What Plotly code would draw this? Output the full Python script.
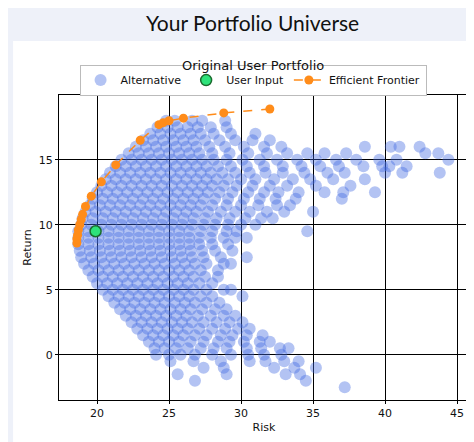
import plotly.graph_objects as go

# Alternative portfolios, read row by row: (return, [risks...])
alt_rows = [
    (18.0, [24.8, 25.4, 26.6, 27.3, 28.9]),
    (17.5, [24.2, 24.9, 25.6, 26.3, 27.0, 27.9, 29.0]),
    (17.0, [23.7, 24.4, 25.1, 25.8, 26.5, 27.2, 28.1, 29.3, 31.0]),
    (16.5, [23.2, 23.9, 24.6, 25.3, 26.0, 26.7, 27.5, 28.5, 29.6, 30.8, 32.0]),
    (16.0, [22.7, 23.4, 24.1, 24.8, 25.5, 26.2, 26.9, 27.8, 28.9, 30.2, 31.6, 32.8, 38.6, 40.4, 41.0, 42.4]),
    (15.5, [22.2, 22.9, 23.6, 24.3, 25.0, 25.7, 26.4, 27.1, 28.0, 29.2, 30.5, 31.8, 33.2, 34.6, 35.8, 37.3, 42.8, 43.7]),
    (15.0, [21.7, 22.4, 23.1, 23.8, 24.5, 25.2, 25.9, 26.6, 27.3, 28.1, 29.0, 30.1, 31.3, 32.5, 33.9, 35.2, 36.6, 38.0, 39.6, 40.8, 44.4]),
    (14.5, [21.3, 22.0, 22.7, 23.4, 24.1, 24.8, 25.5, 26.2, 26.9, 27.6, 28.4, 29.3, 30.4, 31.6, 32.9, 34.2, 35.5, 36.8, 38.5, 39.8, 40.3, 41.5]),
    (14.0, [20.9, 21.6, 22.3, 23.0, 23.7, 24.4, 25.1, 25.8, 26.5, 27.2, 27.9, 28.7, 29.6, 30.6, 31.7, 32.9, 34.4, 36.0, 37.2, 40.0, 41.2, 43.8]),
    (13.5, [20.6, 21.3, 22.0, 22.7, 23.4, 24.1, 24.8, 25.5, 26.2, 26.9, 27.6, 28.3, 29.1, 30.0, 31.0, 32.3, 33.6, 34.8, 36.4, 38.6]),
    (13.0, [20.3, 21.0, 21.7, 22.4, 23.1, 23.8, 24.5, 25.2, 25.9, 26.6, 27.3, 28.0, 28.8, 29.7, 30.8, 32.0, 33.2, 35.2, 37.6]),
    (12.5, [20.0, 20.7, 21.4, 22.1, 22.8, 23.5, 24.2, 24.9, 25.6, 26.3, 27.0, 27.7, 28.5, 29.4, 30.5, 31.6, 32.6, 34.0, 35.8, 37.1, 39.3]),
    (12.0, [19.7, 20.4, 21.1, 21.8, 22.5, 23.2, 23.9, 24.6, 25.3, 26.0, 26.7, 27.4, 28.2, 29.1, 30.2, 31.3, 32.4, 33.8, 37.0]),
    (11.5, [19.5, 20.2, 20.9, 21.6, 22.3, 23.0, 23.7, 24.4, 25.1, 25.8, 26.5, 27.2, 28.0, 29.0, 30.0, 31.2, 32.5, 33.4]),
    (11.0, [19.2, 19.9, 20.6, 21.3, 22.0, 22.7, 23.4, 24.1, 24.8, 25.5, 26.2, 26.9, 27.7, 28.6, 29.6, 30.6, 31.8, 33.0, 35.0]),
    (10.5, [19.0, 19.7, 20.4, 21.1, 21.8, 22.5, 23.2, 23.9, 24.6, 25.3, 26.0, 26.7, 27.5, 28.3, 29.2, 30.3, 31.4, 32.2]),
    (10.0, [18.9, 19.6, 20.3, 21.0, 21.7, 22.4, 23.1, 23.8, 24.5, 25.2, 25.9, 26.6, 27.4, 28.2, 29.1, 30.0, 31.0]),
    (9.5, [18.7, 19.4, 20.1, 20.8, 21.5, 22.2, 22.9, 23.6, 24.3, 25.0, 25.7, 26.4, 27.2, 28.0, 29.0, 29.7, 34.6]),
    (9.0, [18.7, 19.4, 20.1, 20.8, 21.5, 22.2, 22.9, 23.6, 24.3, 25.0, 25.7, 26.4, 27.1, 27.9, 28.8, 29.6, 30.4]),
    (8.5, [18.7, 19.4, 20.1, 20.8, 21.5, 22.2, 22.9, 23.6, 24.3, 25.0, 25.7, 26.4, 27.1, 28.0, 29.1]),
    (8.0, [18.8, 19.5, 20.2, 20.9, 21.6, 22.3, 23.0, 23.7, 24.4, 25.1, 25.8, 26.5, 27.3, 28.2, 29.4]),
    (7.5, [18.9, 19.6, 20.3, 21.0, 21.7, 22.4, 23.1, 23.8, 24.5, 25.2, 25.9, 26.6, 27.4, 28.6, 30.4]),
    (7.0, [19.1, 19.8, 20.5, 21.2, 21.9, 22.6, 23.3, 24.0, 24.7, 25.4, 26.1, 26.8, 27.6, 28.8, 29.3]),
    (6.5, [19.4, 20.1, 20.8, 21.5, 22.2, 22.9, 23.6, 24.3, 25.0, 25.7, 26.4, 27.2, 28.4]),
    (6.0, [19.7, 20.4, 21.1, 21.8, 22.5, 23.2, 23.9, 24.6, 25.3, 26.0, 26.7, 27.5, 28.4]),
    (5.5, [20.0, 20.7, 21.4, 22.1, 22.8, 23.5, 24.2, 24.9, 25.6, 26.3, 27.1, 28.0]),
    (5.0, [20.4, 21.1, 21.8, 22.5, 23.2, 23.9, 24.6, 25.3, 26.0, 26.7, 27.6, 28.8, 29.3]),
    (4.5, [20.8, 21.5, 22.2, 22.9, 23.6, 24.3, 25.0, 25.7, 26.4, 27.2, 28.0, 30.1]),
    (4.0, [21.2, 21.9, 22.6, 23.3, 24.0, 24.7, 25.4, 26.1, 26.8, 27.6, 28.5]),
    (3.5, [21.6, 22.3, 23.0, 23.7, 24.4, 25.1, 25.8, 26.5, 27.3, 28.2, 29.0]),
    (3.0, [22.0, 22.7, 23.4, 24.1, 24.8, 25.5, 26.2, 27.0, 27.9, 28.8, 29.6]),
    (2.5, [22.4, 23.1, 23.8, 24.5, 25.2, 25.9, 26.6, 27.4, 28.3, 29.2, 30.1]),
    (2.0, [22.8, 23.5, 24.2, 24.9, 25.6, 26.3, 27.1, 28.0, 28.9, 29.8, 30.6]),
    (1.5, [23.2, 23.9, 24.6, 25.3, 26.0, 26.8, 27.6, 28.6, 29.4, 30.4, 31.5]),
    (1.0, [23.6, 24.3, 25.0, 25.7, 26.5, 27.4, 28.4, 29.2, 30.2, 31.3, 32.0]),
    (0.5, [24.0, 24.7, 25.5, 26.3, 27.2, 28.1, 29.0, 30.4, 31.4, 32.7, 33.3]),
    (0.0, [24.1, 25.0, 25.8, 26.8, 28.0, 29.3, 30.5, 31.6, 32.8]),
    (-0.5, [25.1, 26.7, 28.6, 30.6, 31.7, 33.0, 34.0]),
    (-1.0, [27.4, 28.8, 32.3, 33.7, 35.2]),
    (-1.5, [25.6, 29.0, 33.1, 34.1]),
    (-2.0, [26.8, 34.5]),
    (-2.5, [37.2]),
]
alt_risk = [x for y, xs in alt_rows for x in xs]
alt_return = [y for y, xs in alt_rows for x in xs]

user_risk = [19.9]
user_return = [9.5]

ef_risk = [18.6, 18.6, 18.65, 18.7, 18.8, 18.9, 19.0, 19.2, 19.6, 20.3, 21.3, 23.0, 24.3, 24.6, 25.0, 26.0, 28.8, 32.0]
ef_return = [8.6, 8.9, 9.2, 9.6, 10.0, 10.4, 10.8, 11.4, 12.2, 13.3, 14.6, 16.5, 17.7, 17.85, 18.0, 18.2, 18.6, 18.9]

fig = go.Figure()
fig.add_trace(go.Scatter(x=alt_risk, y=alt_return, mode="markers", name="Alternative",
                         marker=dict(color="rgba(65,105,225,0.4)", size=12, line=dict(width=0))))
fig.add_trace(go.Scatter(x=user_risk, y=user_return, mode="markers", name="User Input",
                         marker=dict(color="#2ee27a", size=11, line=dict(color="#1a6b2e", width=1.5))))
fig.add_trace(go.Scatter(x=ef_risk, y=ef_return, mode="lines+markers", name="Efficient Frontier",
                         line=dict(color="#ff8c1a", dash="dash", width=1.5),
                         marker=dict(color="#ff8c1a", size=9)))

fig.add_shape(type="rect", xref="paper", yref="paper", x0=-0.112, x1=1.017, y0=-0.148, y1=1.177,
              fillcolor="white", line=dict(width=0), layer="below")
fig.add_annotation(text="Your Portfolio Universe", xref="paper", yref="paper", x=0.473, y=1.285,
                   showarrow=False, font=dict(family="Lato", size=21, color="#111"))
fig.add_annotation(text="Original User Portfolio", xref="paper", yref="paper", x=0.473, y=1.128,
                   showarrow=False, font=dict(family="DejaVu Sans", size=13, color="#111"))

ax = dict(showline=True, linecolor="black", mirror=True, showgrid=True, gridcolor="black",
          gridwidth=1, zeroline=False, ticks="outside", ticklen=3, tickcolor="black",
          automargin=False, tickfont=dict(family="DejaVu Sans", size=11, color="#111"))
fig.update_xaxes(range=[17.36, 45.83], tickvals=[20, 25, 30, 35, 40, 45],
                 title=dict(text="Risk", font=dict(family="DejaVu Sans", size=11, color="#111"), standoff=4), **ax)
fig.update_yaxes(range=[-3.48, 19.98], tickvals=[0, 5, 10, 15],
                 title=dict(text="Return", font=dict(family="DejaVu Sans", size=11, color="#111"), standoff=4), **ax)

fig.update_layout(width=474, height=442, autosize=False, margin=dict(l=51, r=13, t=87, b=50, autoexpand=False),
                  paper_bgcolor="#eef1f9", plot_bgcolor="white",
                  legend=dict(orientation="h", x=0.517, xanchor="center", y=0.837, yanchor="middle",
                              xref="container", yref="container",
                              bgcolor="white", bordercolor="#bbb", borderwidth=1,
                              font=dict(family="DejaVu Sans", size=11, color="#111")),
                  showlegend=True)
fig.write_html("out.html")
